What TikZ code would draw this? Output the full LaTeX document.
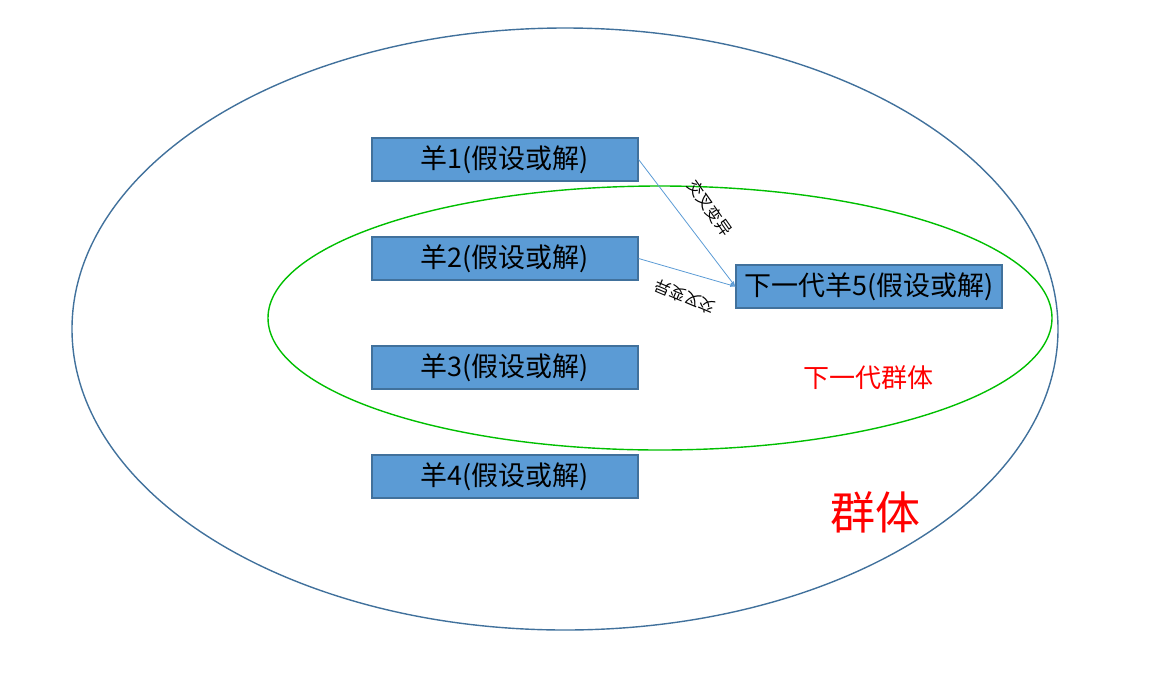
\documentclass[tikz,border=0pt]{standalone}
\usepackage{fontspec}
\newfontfamily\cjk{Noto Sans CJK SC}
\definecolor{boxfill}{HTML}{5B9BD5}
\definecolor{boxline}{HTML}{41719C}
\definecolor{outerline}{HTML}{41719C}
\definecolor{arr}{HTML}{5B9BD5}
\begin{document}
\begin{tikzpicture}[x=1pt,y=-1pt,
  sheep/.style={draw=boxline,line width=1.2pt,fill=boxfill,minimum width=266pt,minimum height=43pt,inner sep=0pt,font=\cjk\fontsize{27}{29}\selectfont},
  lab/.style={font=\cjk\fontsize{16}{17}\selectfont,inner sep=1pt}]
\useasboundingbox (0,0) rectangle (1153,681);
\draw[outerline,line width=1.4pt] (565,329) ellipse [x radius=493,y radius=301];
\draw[green!75!black,line width=1.4pt] (660,318) ellipse [x radius=392,y radius=132];
\node[sheep] (s1) at (505,159.5) {羊1(假设或解)};
\node[sheep] (s2) at (505,258.5) {羊2(假设或解)};
\node[sheep] (s3) at (505,367.5) {羊3(假设或解)};
\node[sheep] (s4) at (505,476.5) {羊4(假设或解)};
\node[sheep] (s5) at (869,286.5) {下一代羊5(假设或解)};
\draw[arr,line width=0.8pt,-latex] (s1.east) -- (s5.west);
\draw[arr,line width=0.8pt,-latex] (s2.east) -- (s5.west);
\node[lab,rotate=-55] (l1) at (710,208) {交叉变异};
\node[lab,rotate=157] (l2) at (685,297) {交叉变异};
\node[text=red,font=\cjk\fontsize{26}{28}\selectfont] (g1) at (868,378) {下一代群体};
\node[text=red,font=\cjk\fontsize{45}{48}\selectfont] (g2) at (875,512) {群体};
\end{tikzpicture}
\end{document}
